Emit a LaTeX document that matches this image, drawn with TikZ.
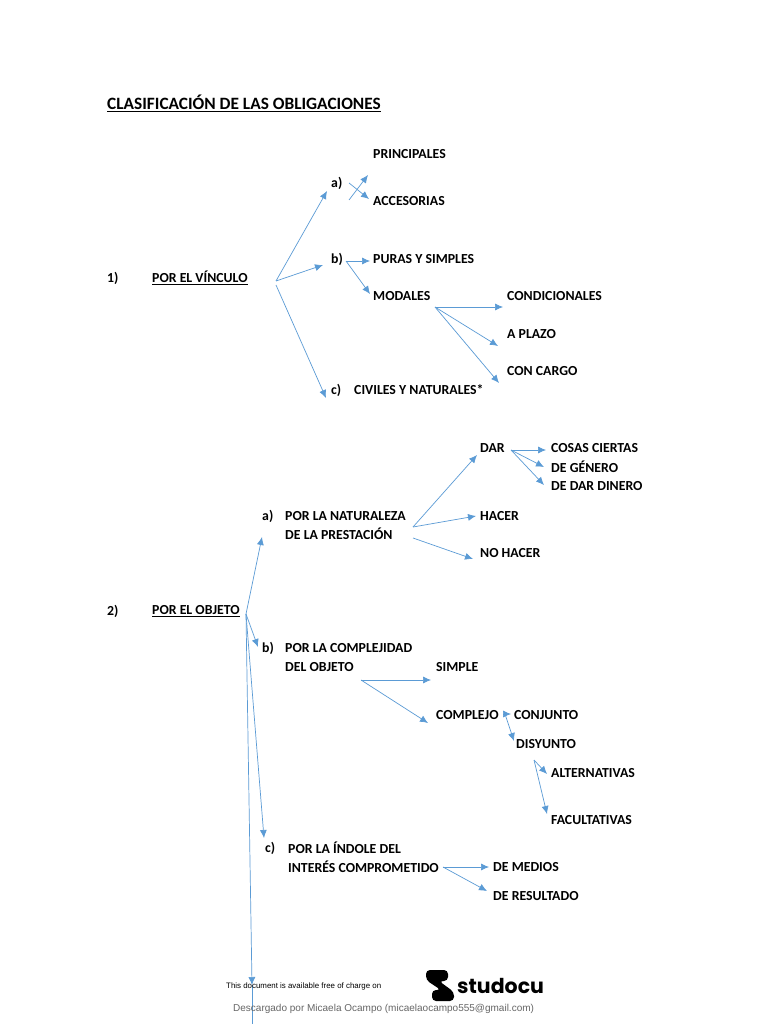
\documentclass[tikz,border=0pt]{standalone}
\usepackage{fontspec}
\setmainfont{Carlito}
\newfontfamily\footfont{Liberation Sans}
\newfontfamily\logofont{Poppins}
\usetikzlibrary{arrows.meta}
\definecolor{arr}{RGB}{91,155,213}
\tikzset{
 t/.style={anchor=west,inner sep=0pt,font=\fontsize{13.8}{16}\selectfont\bfseries},
 ar/.style={draw=arr,line width=0.7pt,-{Latex[length=8pt,width=7pt]}},
 ln/.style={draw=arr,line width=0.7pt},
}
\newcommand{\ubar}[1]{\underline{#1}}
\begin{document}
\begin{tikzpicture}[x=1pt,y=-1pt]
\useasboundingbox[fill=white] (0,0) rectangle (768,1024);
% title
\node[t,font=\fontsize{17.3}{20}\selectfont\bfseries] (title) at (107,103) {\ubar{CLASIFICACIÓN DE LAS OBLIGACIONES}};
% section 1
\node[t] (n1) at (107,278) {1)};
\node[t] (vin) at (152,278) {\ubar{POR EL VÍNCULO}};
\node[t] (a1) at (331,183) {a)};
\node[t] (pri) at (373,154) {PRINCIPALES};
\node[t] (acc) at (373,201) {ACCESORIAS};
\node[t] (b1) at (331,259) {b)};
\node[t] (pur) at (373,259) {PURAS Y SIMPLES};
\node[t] (mod) at (373,296) {MODALES};
\node[t] (con) at (507,296) {CONDICIONALES};
\node[t] (pla) at (507,334) {A PLAZO};
\node[t] (car) at (507,371) {CON CARGO};
\node[t] (c1) at (331,390) {c)};
\node[t] (civ) at (354,390) {CIVILES Y NATURALES*};
\coordinate (v0) at (276,281);
\coordinate (v1) at (276,285);
\draw[ar] (v0) -- (327,191) coordinate (ta1);
\draw[ar] (v0) -- (323,265) coordinate (tb1);
\draw[ar] (v1) -- (326,398) coordinate (tc1);
\draw[ar] (349,200) coordinate (xa) -- (368,175) coordinate (xpri);
\draw[ar] (349,183) coordinate (xb) -- (369,199) coordinate (xacc);
\coordinate (bo) at (346,261);
\draw[ar] (bo) -- (370,261) coordinate (tpur);
\draw[ar] (bo) -- (370,294) coordinate (tmod);
\coordinate (mo) at (435,307);
\draw[ar] (mo) -- (503,307) coordinate (tcon);
\draw[ar] (mo) -- (498,346) coordinate (tpla);
\draw[ar] (mo) -- (499,383) coordinate (tcar);
% section 2
\node[t] (n2) at (107,611) {2)};
\node[t] (obj) at (152,611) {\ubar{POR EL OBJETO}};
\node[t] (a2) at (262,516) {a)};
\node[t] (nat1) at (285,516) {POR LA NATURALEZA};
\node[t] (nat2) at (285,534) {DE LA PRESTACIÓN};
\node[t] (dar) at (480,448) {DAR};
\node[t] (cos) at (551,448) {COSAS CIERTAS};
\node[t] (gen) at (551,467) {DE GÉNERO};
\node[t] (din) at (551,486) {DE DAR DINERO};
\node[t] (hac) at (480,516) {HACER};
\node[t] (nha) at (480,553) {NO HACER};
\coordinate (d0) at (511,450);
\draw[ar] (d0) -- (546,450) coordinate (tcos);
\draw[ar] (d0) -- (544,467) coordinate (tgen);
\draw[ar] (d0) -- (544,485) coordinate (tdin);
\coordinate (p0) at (413,527);
\draw[ar] (p0) -- (477,455) coordinate (tdar);
\draw[ar] (p0) -- (476,516) coordinate (thac);
\draw[ar] (413,538) coordinate (p1) -- (473,559) coordinate (tnha);
\coordinate (o0) at (246,614);
\draw[ar] (o0) -- (262,537) coordinate (ta2);
\draw[ar] (o0) -- (258,647) coordinate (tb2);
\draw[ar] (o0) -- (264,838) coordinate (tc2);
\draw[ar] (o0) -- (252,985) coordinate (tlong);
\draw[ln] (tlong) -- (252,1024) coordinate (bot);
\node[t] (b2) at (262,648) {b)};
\node[t] (com1) at (285,648) {POR LA COMPLEJIDAD};
\node[t] (com2) at (285,667) {DEL OBJETO};
\node[t] (sim) at (436,667) {SIMPLE};
\node[t] (cpl) at (436,715) {COMPLEJO};
\node[t] (cnj) at (514,715) {CONJUNTO};
\node[t] (dis) at (516,744) {DISYUNTO};
\node[t] (alt) at (551,773) {ALTERNATIVAS};
\node[t] (fac) at (551,820) {FACULTATIVAS};
\coordinate (s0) at (361,680);
\draw[ar] (s0) -- (431,680) coordinate (tsim);
\draw[ar] (s0) -- (428,723) coordinate (tcpl);
\coordinate (k0) at (505,714);
\draw[ar] (k0) -- (511,714) coordinate (tcnj);
\draw[ar] (k0) -- (514,741) coordinate (tdis);
\coordinate (j0) at (534,760);
\draw[ar] (j0) -- (547,774) coordinate (talt);
\draw[ar] (j0) -- (547,814) coordinate (tfac);
\node[t] (c2) at (265,848) {c)};
\node[t] (ind1) at (288,848) {POR LA ÍNDOLE DEL};
\node[t] (ind2) at (288,867) {INTERÉS COMPROMETIDO};
\node[t] (med) at (493,867) {DE MEDIOS};
\node[t] (res) at (493,896) {DE RESULTADO};
\coordinate (i0) at (443,867);
\draw[ar] (i0) -- (489,867) coordinate (tmed);
\draw[ar] (i0) -- (487,891) coordinate (tres);
% footer
\node[anchor=west,inner sep=0pt,font=\footfont\fontsize{7.9}{9}\selectfont] (f1) at (226,986) {This document is available free of charge on};
\node[anchor=west,inner sep=0pt,font=\footfont\fontsize{10}{11}\selectfont,text=black!60] (f2) at (233,1009) {Descargado por Micaela Ocampo (micaelaocampo555@gmail.com)};
\fill[black,rounded corners=4pt] (426,970) -- (448,970) -- (448,981) -- (439,981) -- (454,992) -- (454,1001) -- (432,1001) -- (432,990) -- (441,990) -- (426,980) -- cycle;
\node[anchor=west,inner sep=0pt,font=\logofont\bfseries\fontsize{20.5}{22}\selectfont] (logo) at (457,986) {studocu};
\end{tikzpicture}
\end{document}
